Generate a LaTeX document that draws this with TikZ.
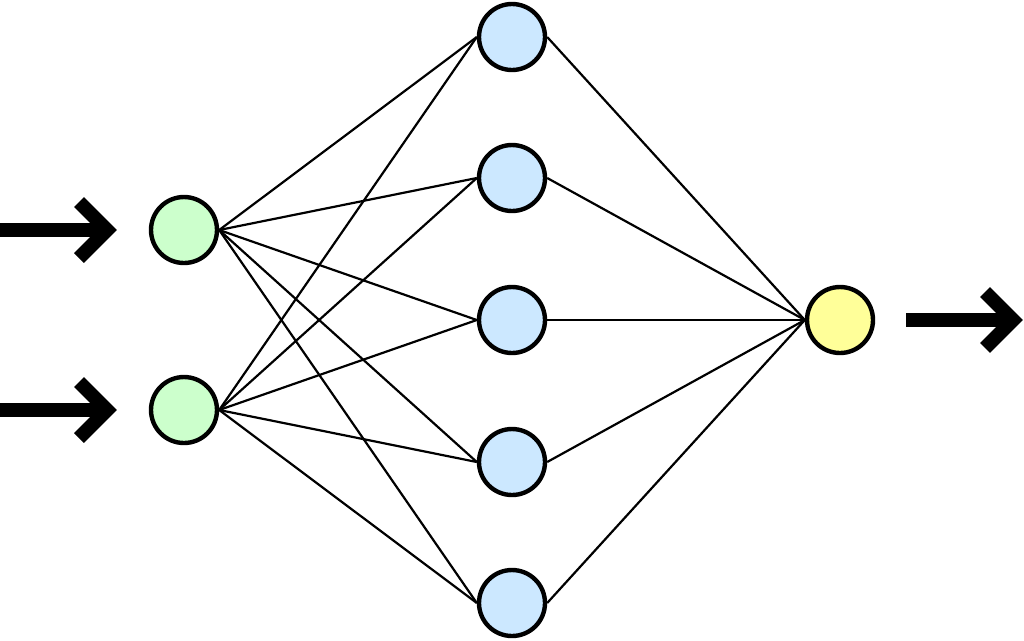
\documentclass[tikz,border=0pt]{standalone}
\usepackage{tikz}
\usetikzlibrary{calc}
\usepackage{xcolor}

\definecolor{ingreen}{RGB}{204,255,204}
\definecolor{hidblue}{RGB}{204,232,255}
\definecolor{outyellow}{RGB}{255,255,153}

\begin{document}
\begin{tikzpicture}[x=0.02cm, y=-0.02cm,
  neuron/.style={circle, draw, line width=2.5pt, inner sep=0, minimum size=1.32cm},
  link/.style={line width=1.25pt},
  bigarrow/.style={line width=8pt},
  chevron/.style={line width=8pt, line join=miter}]
\useasboundingbox (0,0) rectangle (1024,640);

\node[neuron, fill=ingreen] (i1) at (184,230) {};
\node[neuron, fill=ingreen] (i2) at (184,410) {};

\node[neuron, fill=hidblue] (h1) at (512,37) {};
\node[neuron, fill=hidblue] (h2) at (512,178) {};
\node[neuron, fill=hidblue] (h3) at (512,320) {};
\node[neuron, fill=hidblue] (h4) at (512,462) {};
\node[neuron, fill=hidblue] (h5) at (512,603) {};

\node[neuron, fill=outyellow] (o1) at (840,320) {};

\foreach \i in {1,2}{
  \foreach \h in {1,...,5}{
    \draw[link] (i\i.east) -- (h\h.west);
  }
}
\foreach \h in {1,...,5}{
  \draw[link] (h\h.east) -- (o1.west);
}

% input arrows
\coordinate (s1) at (0,230);
\coordinate (t1) at (107,230);
\coordinate (s2) at (0,410);
\coordinate (t2) at (107,410);
\draw[bigarrow] (s1) -- (t1);
\draw[chevron] ($(t1)+(-28,-28)$) -- (t1) -- ($(t1)+(-28,28)$);
\draw[bigarrow] (s2) -- (t2);
\draw[chevron] ($(t2)+(-28,-28)$) -- (t2) -- ($(t2)+(-28,28)$);

% output arrow
\coordinate (s3) at (906,320);
\coordinate (t3) at (1013,320);
\draw[bigarrow] (s3) -- (t3);
\draw[chevron] ($(t3)+(-28,-28)$) -- (t3) -- ($(t3)+(-28,28)$);

\end{tikzpicture}
\end{document}
